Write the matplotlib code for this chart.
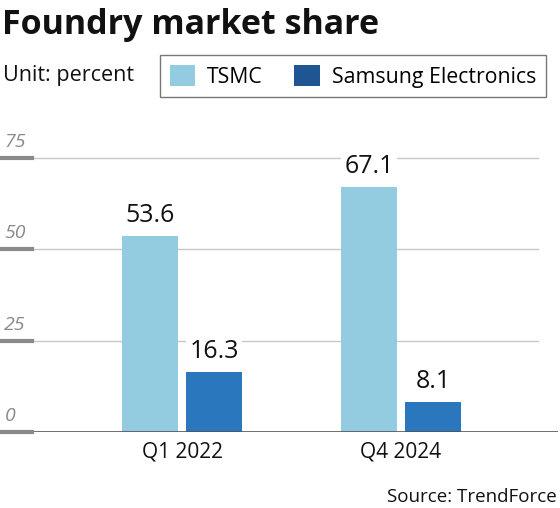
import matplotlib
matplotlib.use("Agg")
import matplotlib.pyplot as plt
from matplotlib.patches import Patch

categories = ["Q1 2022", "Q4 2024"]
series_names = ["TSMC", "Samsung Electronics"]
tsmc = [53.6, 67.1]
samsung = [16.3, 8.1]
yticks = [0, 25, 50, 75]

c_tsmc = "#93cbe1"
c_sam = "#2a77bd"
c_sam_leg = "#1f5592"

plt.rcParams['font.family'] = ['Open Sans', 'DejaVu Sans']

W, H = 560, 508
fig = plt.figure(figsize=(W/100, H/100), dpi=100)
ax_l, ax_r, ax_b, ax_t = 3, 558, 432, 130
ax = fig.add_axes([ax_l/W, (H-ax_b)/H, (ax_r-ax_l)/W, (ax_b-ax_t)/H])

px_per_unit = 219.0
c0 = 182.0
ax.set_xlim((ax_l-c0)/px_per_unit, (ax_r-c0)/px_per_unit)
ymax = 75*(ax_b-ax_t)/(432-158)
ax.set_ylim(0, ymax)

bw = 56/px_per_unit
off = 32/px_per_unit
x = list(range(len(categories)))
b1 = ax.bar([i-off for i in x], tsmc, width=bw, color=c_tsmc, zorder=3)
b2 = ax.bar([i+off for i in x], samsung, width=bw, color=c_sam, zorder=3)

# gridlines and ticks
grid_end = (538-ax_l)/(ax_r-ax_l)
tick_end = (32-ax_l)/(ax_r-ax_l)
for t in yticks:
    if t == 0:
        ax.axhline(t, color="#555555", lw=1.2, zorder=4)
    else:
        ax.axhline(t, xmax=grid_end, color="#c8c8c8", lw=1.0, zorder=1)
    ax.axhline(t, xmin=-0.002, xmax=tick_end, color="#8a8a8a", lw=3, zorder=5, clip_on=False)
    ax.annotate(str(t), xy=(0, t), xycoords=("axes fraction", "data"),
                xytext=(1, 5), textcoords="offset points", ha="left", va="bottom",
                fontsize=14, fontstyle="italic", color="#8a8a8a")

for i in x:
    ax.annotate(f"{tsmc[i]}", xy=(i-off, tsmc[i]), xytext=(0, 6), textcoords="offset points",
                ha="center", va="bottom", fontsize=18, color="#111111", zorder=6,
                bbox=dict(boxstyle="square,pad=0.12", fc="white", ec="none"))
    ax.annotate(f"{samsung[i]}", xy=(i+off, samsung[i]), xytext=(0, 6), textcoords="offset points",
                ha="center", va="bottom", fontsize=18, color="#111111", zorder=6,
                bbox=dict(boxstyle="square,pad=0.12", fc="white", ec="none"))

ax.set_xticks(x)
ax.set_xticklabels(categories, fontsize=15, color="#111111")
ax.tick_params(axis="x", length=0, pad=7)
ax.set_yticks([])
for s in ax.spines.values():
    s.set_visible(False)

fig.text(2/W, 1-34/H, "Foundry market share", fontsize=24.5, fontweight="bold",
         ha="left", va="baseline", color="#111111")
fig.text(3/W, 1-81/H, "Unit: percent", fontsize=15.5, ha="left", va="baseline", color="#111111")
fig.text(557/W, 1-502/H, "Source: TrendForce", fontsize=13.5, ha="right", va="baseline", color="#111111")

handles = [Patch(facecolor=c_tsmc, edgecolor="none"), Patch(facecolor=c_sam_leg, edgecolor="none")]
leg = fig.legend(handles, series_names, loc="upper left", bbox_to_anchor=(160/W, 1-55/H),
                 ncol=2, fontsize=15.3, frameon=True, fancybox=False, edgecolor="#555555",
                 handlelength=1.2, handleheight=1.2, handletextpad=0.55, columnspacing=1.5,
                 borderpad=0.45, borderaxespad=0)
leg.get_frame().set_linewidth(1.0)

fig.savefig("out.png", dpi=100)
